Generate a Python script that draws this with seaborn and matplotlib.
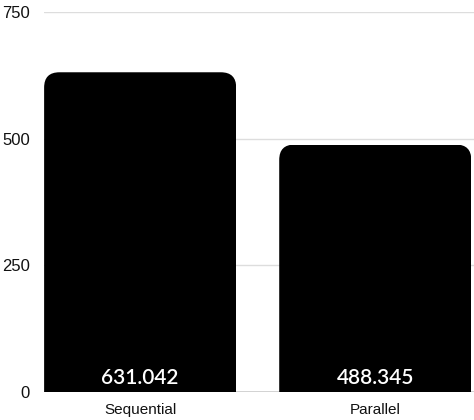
import matplotlib
matplotlib.use("Agg")
import matplotlib.pyplot as plt
import seaborn as sns
import pandas as pd
from matplotlib.patches import FancyBboxPatch

categories = ["Sequential", "Parallel"]
times = [631.042, 488.345]
value_labels = ["631.042", "488.345"]
y_ticks = [0, 250, 500, 750]

df = pd.DataFrame({"mode": categories, "time": times})

sns.set_theme(style="white")
plt.rcParams["font.family"] = ["Liberation Sans", "DejaVu Sans"]

fig = plt.figure(figsize=(4.74, 4.2), dpi=100)
ax = fig.add_axes([44 / 474, 28 / 420, 430 / 474, 380 / 420])

sns.barplot(data=df, x="mode", y="time", color="black", width=0.817,
            saturation=1, ax=ax, zorder=3)

ax.set_xlim(-0.409, 1.42)
ax.set_ylim(0, 750)
ax.set_yticks(y_ticks)
ax.yaxis.grid(True, color="#dddddd", linewidth=1, zorder=0)
ax.axhline(0, color="#cccccc", linewidth=1.2, zorder=1)
for s in ax.spines.values():
    s.set_visible(False)
ax.tick_params(axis="y", length=0, pad=10, labelsize=12, colors="#111111")
ax.tick_params(axis="x", length=0, pad=8, labelsize=11, colors="#111111")
ax.set_xlabel("")
ax.set_ylabel("")

# round the top corners of each bar
rx = 0.065
ry = rx * (750 / 380) * 235
for bar in ax.patches:
    bar.set_edgecolor("none")
    x0 = bar.get_x()
    w = bar.get_width()
    h = bar.get_height()
    clip = FancyBboxPatch((x0, -100), w, h + 100,
                          boxstyle=f"round,pad=0,rounding_size={rx}",
                          mutation_aspect=ry / rx,
                          transform=ax.transData, facecolor="none",
                          edgecolor="none")
    ax.add_patch(clip)
    bar.set_clip_path(clip)

for i, lab in enumerate(value_labels):
    ax.text(i, 7, lab, color="white", ha="center", va="bottom",
            fontsize=15, fontweight="semibold",
            family=["Lato", "DejaVu Sans"], zorder=4)

fig.savefig("out.png", dpi=100)
